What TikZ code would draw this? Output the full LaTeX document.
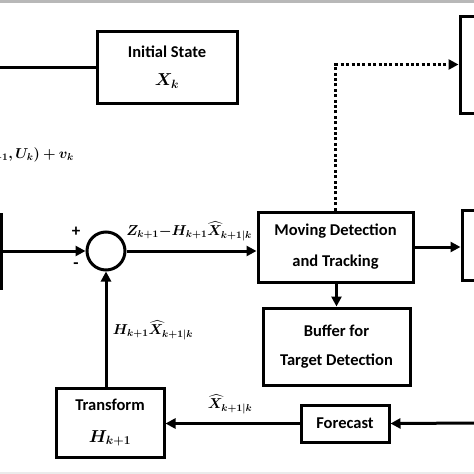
\documentclass[tikz,border=0pt]{standalone}
\usepackage{amsmath}
\usepackage{bm}
\usepackage{fontspec}
\setmainfont{Carlito}
\usetikzlibrary{arrows.meta}
\begin{document}
\begin{tikzpicture}[x=1pt,y=-1pt,
  box/.style={draw,line width=3pt,rectangle,inner sep=0pt,font=\bfseries\fontsize{16.5}{20}\selectfont,align=center},
  conn/.style={line width=3pt},
  arr/.style={line width=3pt,-{Triangle[length=10pt,width=10pt]}},
  dotarr/.style={line width=3pt,dash pattern=on 3pt off 2.4pt,-{Triangle[length=10pt,width=10pt]}},
  lab/.style={inner sep=0pt,font=\fontsize{14.5}{17}\selectfont}]
\useasboundingbox (0,0) rectangle (474,474);
\fill[white] (0,0) rectangle (474,474);
\clip (0,0) rectangle (474,474);
\fill[black!28] (0,0) rectangle (474,2.5);
\fill[black!8] (0,471.5) rectangle (474,474);
% nodes
\node[box,minimum width=140pt,minimum height=72pt] (init) at (167,67) {Initial State\\[8pt]$\bm{X_k}$};
\node[box,minimum width=62pt,minimum height=97pt] (rtop) at (491,64.5) {};
\node[box,minimum width=63pt,minimum height=74pt] (lbox) at (-30,251) {};
\node[draw,line width=3pt,circle,minimum size=38pt,inner sep=0pt] (sum) at (106,251) {};
\node[box,minimum width=155pt,minimum height=70pt] (mdt) at (335.5,247) {Moving Detection\\[11pt]and Tracking};
\node[box,minimum width=60pt,minimum height=70pt] (rmid) at (492,245) {};
\node[box,minimum width=147pt,minimum height=77pt] (buf) at (336.5,346.5) {Buffer for\\[9pt]Target Detection};
\node[box,minimum width=88pt,minimum height=37pt] (fore) at (345,423.5) {Forecast};
\node[box,minimum width=108pt,minimum height=69pt] (trans) at (110,422.5) {Transform\\[12pt]$\bm{H_{k+1}}$};
% coordinates
\coordinate (leftin) at (-5,67);
\coordinate (rightin) at (480,423);
% connectors
\draw[conn] (leftin) -- (init.west);
\draw[arr] (lbox.east) -- (sum.west);
\draw[arr] (sum.east) -- (sum.east -| mdt.west);
\draw[arr] (mdt.east) -- (mdt.east -| rmid.west);
\draw[arr] (mdt.south -| buf.north) -- (buf.north);
\draw[dotarr] (mdt.north) |- (rtop.west);
\draw[arr] (rightin) -- (fore.east);
\draw[arr] (fore.west) -- (fore.west -| trans.east);
\draw[arr] (trans.north -| sum.south) -- (sum.south);
% labels
\node[lab,font=\bfseries\fontsize{17}{20}\selectfont] (plus) at (76,232) {+};
\node[lab,font=\bfseries\fontsize{17}{20}\selectfont] (minus) at (76,266) {-};
\node[lab] (zlab) at (189,231) {$\bm{Z_{k+1}{-}H_{k+1}\widehat{X}_{k+1|k}}$};
\node[lab] (hlab) at (153,330) {$\bm{H_{k+1}\widehat{X}_{k+1|k}}$};
\node[lab] (xlab) at (230,404) {$\bm{\widehat{X}_{k+1|k}}$};
\node[lab,anchor=east] (meas) at (74,155) {$\bm{Z_{k+1}=h(X_{k+1},U_k)+v_k}$};
\end{tikzpicture}
\end{document}
